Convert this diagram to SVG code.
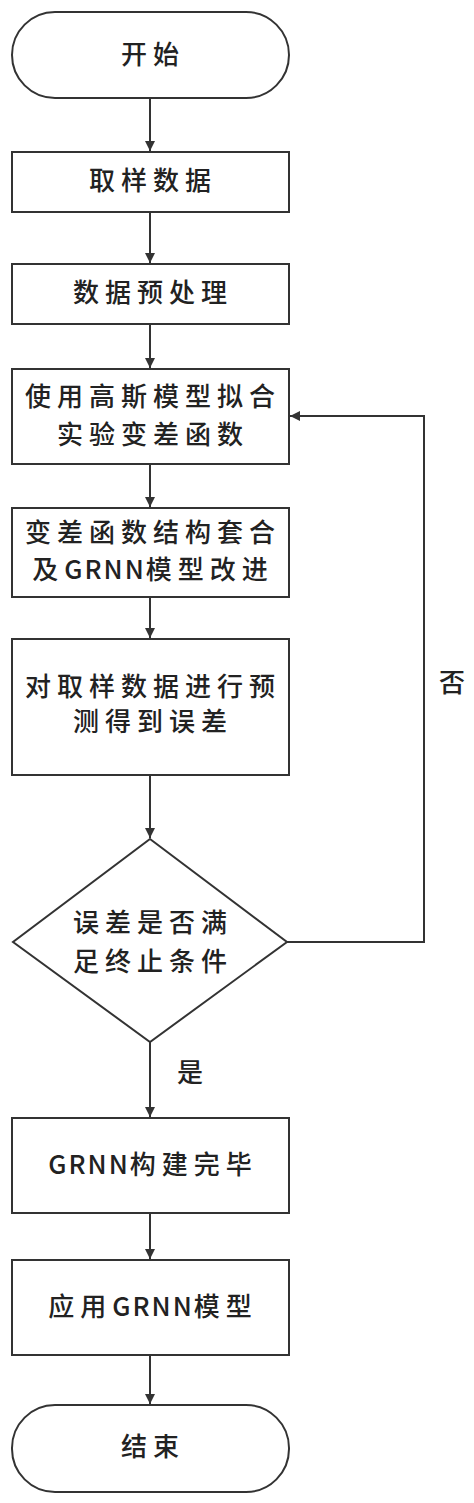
<svg xmlns="http://www.w3.org/2000/svg" width="474" height="1503" viewBox="0 0 474 1503">
<style>
.shape{fill:#fff;stroke:#333;stroke-width:2}
.conn{fill:none;stroke:#333;stroke-width:2}
.t{font-family:"Noto Sans CJK SC","Noto Sans",sans-serif;font-size:26px;font-weight:500;fill:#222;text-anchor:middle;letter-spacing:6px}
.lat{letter-spacing:2px}
</style>
<defs>
<marker id="arr" markerUnits="userSpaceOnUse" markerWidth="10" markerHeight="10" refX="10" refY="5" orient="auto">
<path d="M0,0 L10,5 L0,10 z" fill="#333"/>
</marker>
</defs>
<rect width="474" height="1503" fill="#fff"/>
<g id="connectors">
<line class="conn" x1="150" y1="98" x2="150" y2="151" marker-end="url(#arr)"/>
<line class="conn" x1="150" y1="212" x2="150" y2="263" marker-end="url(#arr)"/>
<line class="conn" x1="150" y1="324" x2="150" y2="368" marker-end="url(#arr)"/>
<line class="conn" x1="150" y1="464" x2="150" y2="507" marker-end="url(#arr)"/>
<line class="conn" x1="150" y1="597" x2="150" y2="638" marker-end="url(#arr)"/>
<line class="conn" x1="150" y1="775" x2="150" y2="838" marker-end="url(#arr)"/>
<line class="conn" x1="150" y1="1042" x2="150" y2="1117" marker-end="url(#arr)"/>
<line class="conn" x1="150" y1="1213" x2="150" y2="1259" marker-end="url(#arr)"/>
<line class="conn" x1="150" y1="1355" x2="150" y2="1404" marker-end="url(#arr)"/>
<polyline class="conn" points="287,942 424,942 424,416 290,416" marker-end="url(#arr)"/>
<text class="t" x="193" y="1082">是</text>
<text class="t" x="455" y="692">否</text>
</g>
<g id="start">
<rect class="shape" x="12" y="12" width="277" height="86" rx="43" ry="43"/>
<text class="t" x="153" y="64">开始</text>
</g>
<g id="sample">
<rect class="shape" x="12" y="152" width="277" height="60"/>
<text class="t" x="153" y="190">取样数据</text>
</g>
<g id="preprocess">
<rect class="shape" x="12" y="264" width="277" height="60"/>
<text class="t" x="153" y="302">数据预处理</text>
</g>
<g id="fit">
<rect class="shape" x="12" y="369" width="277" height="95"/>
<text class="t" x="153" y="406">使用高斯模型拟合</text>
<text class="t" x="153" y="444">实验变差函数</text>
</g>
<g id="improve">
<rect class="shape" x="12" y="508" width="277" height="89"/>
<text class="t" x="153" y="542">变差函数结构套合</text>
<text class="t" x="153" y="579">及<tspan class="lat">GRNN</tspan>模型改进</text>
</g>
<g id="predict">
<rect class="shape" x="12" y="639" width="277" height="136"/>
<text class="t" x="153" y="696">对取样数据进行预</text>
<text class="t" x="153" y="731">测得到误差</text>
</g>
<g id="decision">
<polygon class="shape" points="150,839 287,942 150,1042 13,942"/>
<text class="t" x="153" y="932">误差是否满</text>
<text class="t" x="153" y="971">足终止条件</text>
</g>
<g id="built">
<rect class="shape" x="12" y="1118" width="277" height="95"/>
<text class="t" x="153" y="1174"><tspan class="lat">GRNN</tspan>构建完毕</text>
</g>
<g id="apply">
<rect class="shape" x="12" y="1260" width="277" height="95"/>
<text class="t" x="153" y="1316">应用<tspan class="lat">GRNN</tspan>模型</text>
</g>
<g id="end">
<rect class="shape" x="12" y="1405" width="277" height="87" rx="43" ry="43"/>
<text class="t" x="153" y="1456">结束</text>
</g>
</svg>
